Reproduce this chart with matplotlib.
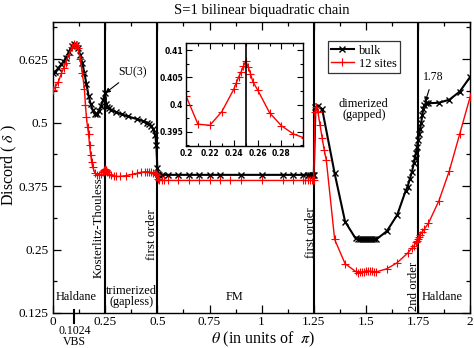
import numpy as np
import matplotlib
matplotlib.use("Agg")
import matplotlib.pyplot as plt
from matplotlib.ticker import MultipleLocator, FixedLocator
import matplotlib.transforms as mtransforms

plt.rcParams['font.family'] = ['Liberation Serif', 'DejaVu Serif']
plt.rcParams['mathtext.fontset'] = 'stix'

# Bulk discord vs theta (units of pi)
theta_bulk = [0, 0.01, 0.025, 0.04, 0.05, 0.06, 0.075, 0.09, 0.1, 0.11, 0.12, 0.13,
              0.14, 0.15, 0.16, 0.17, 0.18, 0.19, 0.2, 0.21, 0.22, 0.23, 0.24, 0.25,
              0.255, 0.26, 0.27, 0.28, 0.3, 0.33, 0.36, 0.4, 0.43, 0.45, 0.46, 0.47,
              0.48, 0.49, 0.495, 0.5, 0.505, 0.51, 0.52, 0.55, 0.6, 0.65, 0.7, 0.75,
              0.8, 0.9, 1.0, 1.1, 1.15, 1.2, 1.22, 1.23, 1.24, 1.245, 1.25, 1.258,
              1.27, 1.29, 1.35, 1.4, 1.45, 1.46, 1.47, 1.48, 1.49, 1.5, 1.51, 1.52,
              1.53, 1.54, 1.55, 1.6, 1.65, 1.69, 1.7, 1.71, 1.72, 1.73, 1.735, 1.74,
              1.745, 1.75, 1.755, 1.76, 1.765, 1.77, 1.775, 1.78, 1.79, 1.8, 1.85,
              1.9, 1.95, 2.0]
disc_bulk = [0.597, 0.600, 0.607, 0.615, 0.620, 0.627, 0.639, 0.650, 0.655, 0.653,
             0.647, 0.633, 0.617, 0.598, 0.575, 0.553, 0.537, 0.524, 0.516, 0.517,
             0.523, 0.533, 0.545, 0.558, 0.537, 0.531, 0.528, 0.525, 0.521, 0.516,
             0.512, 0.507, 0.503, 0.500, 0.498, 0.494, 0.487, 0.476, 0.455, 0.410,
             0.398, 0.397, 0.397, 0.397, 0.397, 0.397, 0.397, 0.397, 0.397, 0.397,
             0.397, 0.397, 0.397, 0.397, 0.397, 0.397, 0.397, 0.397, 0.397, 0.531,
             0.532, 0.527, 0.400, 0.305, 0.272, 0.270, 0.270, 0.271, 0.270, 0.271,
             0.270, 0.270, 0.271, 0.270, 0.270, 0.286, 0.318, 0.365, 0.374, 0.388,
             0.402, 0.420, 0.430, 0.440, 0.452, 0.465, 0.477, 0.488, 0.499, 0.515,
             0.526, 0.535, 0.538, 0.538, 0.539, 0.545, 0.561, 0.590]

# 12-site chain discord vs theta
theta_12 = [0, 0.01, 0.025, 0.04, 0.05, 0.06, 0.075, 0.09, 0.1, 0.11, 0.12, 0.13,
            0.14, 0.15, 0.155, 0.16, 0.165, 0.17, 0.175, 0.18, 0.185, 0.19, 0.2,
            0.21, 0.22, 0.23, 0.24, 0.242, 0.244, 0.246, 0.248, 0.25, 0.252, 0.254,
            0.256, 0.26, 0.27, 0.28, 0.29, 0.3, 0.32, 0.35, 0.38, 0.4, 0.42, 0.44,
            0.45, 0.46, 0.47, 0.48, 0.49, 0.495, 0.5, 0.505, 0.51, 0.52, 0.53, 0.55,
            0.6, 0.65, 0.7, 0.75, 0.8, 0.85, 0.9, 1.0, 1.1, 1.15, 1.2, 1.21, 1.22,
            1.23, 1.24, 1.245, 1.25, 1.255, 1.26, 1.27, 1.28, 1.29, 1.3, 1.31, 1.35,
            1.4, 1.45, 1.46, 1.47, 1.48, 1.49, 1.5, 1.51, 1.52, 1.53, 1.54, 1.55,
            1.6, 1.65, 1.7, 1.72, 1.73, 1.74, 1.745, 1.75, 1.755, 1.76, 1.77, 1.78,
            1.8, 1.85, 1.9, 1.95, 2.0]
disc_12 = [0.564, 0.570, 0.580, 0.597, 0.607, 0.618, 0.633, 0.648, 0.654, 0.653,
           0.646, 0.625, 0.598, 0.567, 0.535, 0.510, 0.492, 0.478, 0.455, 0.437,
           0.422, 0.412, 0.4016, 0.3964, 0.3962, 0.3987, 0.4028, 0.4039, 0.4050,
           0.4059, 0.4070, 0.4080, 0.40695, 0.4057, 0.4042, 0.4027, 0.3985, 0.3961,
           0.3946, 0.3938, 0.3940, 0.3955, 0.3980, 0.4000, 0.4020, 0.4030, 0.4030,
           0.4030, 0.4020, 0.4010, 0.4000, 0.3990, 0.3960, 0.3880, 0.386, 0.386,
           0.386, 0.386, 0.386, 0.386, 0.386, 0.386, 0.386, 0.386, 0.386, 0.386,
           0.386, 0.386, 0.386, 0.386, 0.386, 0.386, 0.386, 0.386, 0.386, 0.520,
           0.531, 0.520, 0.495, 0.470, 0.446, 0.426, 0.270, 0.222, 0.207, 0.204,
           0.205, 0.206, 0.206, 0.208, 0.208, 0.207, 0.207, 0.206, 0.206, 0.212,
           0.224, 0.243, 0.252, 0.257, 0.264, 0.267, 0.271, 0.275, 0.279, 0.285,
           0.290, 0.302, 0.346, 0.405, 0.478, 0.551]

transitions = [0.25, 0.5, 1.25, 1.75]
x_ticks = [0, 0.25, 0.5, 0.75, 1, 1.25, 1.5, 1.75, 2]
x_ticklabels = ['0', '0.25', '0.5', '0.75', '1', '1.25', '1.5', '1.75', '2']
y_ticks = [0.125, 0.25, 0.375, 0.5, 0.625]
y_ticklabels = ['0.125', '0.25', '0.375', '0.5', '0.625']
inset_xticks = [0.2, 0.22, 0.24, 0.26, 0.28]
inset_yticks = [0.395, 0.4, 0.405, 0.41]
theta_vbs = 0.1024

fig = plt.figure(figsize=(4.74, 3.48), dpi=100)
ax = fig.add_axes([0.112, 0.1006, 0.880, 0.8362])

ax.plot(theta_bulk, disc_bulk, color='black', lw=1.5, marker='x', ms=4.5,
        mew=1.0, label='bulk', zorder=3)
ax.plot(theta_12, disc_12, color='red', lw=1.0, marker='+', ms=6,
        mew=0.8, label='12 sites', zorder=3)

for t in transitions:
    ax.axvline(t, color='black', lw=1.5, zorder=2)

ax.set_xlim(0, 2)
ax.set_ylim(0.125, 0.698)
ax.set_xticks(x_ticks)
ax.set_xticklabels(x_ticklabels)
ax.set_yticks(y_ticks)
ax.set_yticklabels(y_ticklabels)
ax.xaxis.set_minor_locator(MultipleLocator(0.125))
ax.yaxis.set_minor_locator(MultipleLocator(0.0625))
ax.tick_params(which='both', direction='in', top=True, right=True, labelsize=9.5)
ax.tick_params(axis='x', which='major', pad=2.5)
ax.tick_params(which='major', length=6, width=0.9)
ax.tick_params(which='minor', length=3, width=0.9)
for s in ax.spines.values():
    s.set_linewidth(1.0)

ax.set_title('S=1 bilinear biquadratic chain', fontsize=10.5, pad=6)
fig.text(263 / 474, 1 - 339 / 348, r'$\theta$ (in units of  $\pi$)',
         ha='center', va='center', fontsize=11.5)
fig.text(9 / 474, 1 - 165 / 348, r'Discord ( $\delta$ )', rotation=90,
         ha='center', va='center', fontsize=11.5)

# VBS point marker below the axis
trans = mtransforms.blended_transform_factory(ax.transData, ax.transAxes)
ax.plot([theta_vbs, theta_vbs], [-0.034, 0.01], color='black', lw=1.5,
        transform=trans, clip_on=False)
ax.text(theta_vbs, -0.062, '0.1024', transform=trans, ha='center',
        va='center', fontsize=8.5)
ax.text(theta_vbs, -0.100, 'VBS', transform=trans, ha='center', va='center',
        fontsize=8.5)

# Phase labels
ax.text(0.113, 0.157, 'Haldane', ha='center', va='center', fontsize=8.8)
ax.text(0.377, 0.157, 'trimerized\n(gapless)', ha='center', va='center',
        fontsize=8.8, linespacing=0.9)
ax.text(0.87, 0.157, 'FM', ha='center', va='center', fontsize=8.8)
ax.text(1.865, 0.157, 'Haldane', ha='center', va='center', fontsize=8.8)
ax.text(1.49, 0.525, 'dimerized\n(gapped)', ha='center', va='center',
        fontsize=8.8, linespacing=0.9)
ax.text(0.217, 0.293, 'Kosterlitz-Thouless', rotation=90, ha='center',
        va='center', fontsize=9.2)
ax.text(0.474, 0.279, 'first order', rotation=90, ha='center', va='center',
        fontsize=9.2)
ax.text(1.236, 0.284, 'first order', rotation=90, ha='center', va='center',
        fontsize=9.2)
ax.text(1.731, 0.178, '2nd order', rotation=90, ha='center', va='center',
        fontsize=9.2)

ax.annotate('SU(3)', xy=(0.25, 0.558), xytext=(0.38, 0.599), ha='center',
            va='center', fontsize=8.5,
            arrowprops=dict(arrowstyle='-|>', color='black', lw=0.8,
                            mutation_scale=7, shrinkA=2, shrinkB=0))
ax.annotate('1.78', xy=(1.784, 0.540), xytext=(1.822, 0.590), ha='center',
            va='center', fontsize=8.5,
            arrowprops=dict(arrowstyle='-|>', color='black', lw=0.8,
                            mutation_scale=7, shrinkA=3, shrinkB=0))

leg = ax.legend(loc='upper left', bbox_to_anchor=(0.659, 0.933), fontsize=9,
                frameon=True, fancybox=False, edgecolor='black',
                handlelength=1.8, borderpad=0.25, labelspacing=0.1,
                handletextpad=0.4, borderaxespad=0)
leg.get_frame().set_linewidth(0.9)

# Inset: zoom near the SU(3) point
axin = fig.add_axes([0.3924, 0.5805, 0.2468, 0.2959])
theta_12_arr = np.asarray(theta_12)
disc_12_arr = np.asarray(disc_12)
sel = (theta_12_arr >= 0.2) & (theta_12_arr <= 0.3)
axin.plot(theta_12_arr[sel], disc_12_arr[sel], color='red', lw=1.0,
          marker='+', ms=6, mew=0.8)
axin.axvline(0.25, color='black', lw=1.2)
axin.set_xlim(0.2, 0.298)
axin.set_ylim(0.3924, 0.4113)
axin.xaxis.set_major_locator(FixedLocator(inset_xticks))
axin.yaxis.set_major_locator(FixedLocator(inset_yticks))
axin.xaxis.set_minor_locator(MultipleLocator(0.01))
axin.yaxis.set_minor_locator(MultipleLocator(0.0025))
axin.set_xticklabels([f'{v:g}' for v in inset_xticks], family='DejaVu Sans',
                     fontweight='bold', fontsize=5.5)
axin.set_yticklabels([f'{v:g}' for v in inset_yticks], family='DejaVu Sans',
                     fontweight='bold', fontsize=5.5)
axin.tick_params(which='both', direction='in', top=True, right=True, pad=2)
axin.tick_params(which='major', length=4, width=0.8)
axin.tick_params(which='minor', length=2.5, width=0.8)
for s in axin.spines.values():
    s.set_linewidth(1.0)

fig.savefig('out.png', dpi=100)
